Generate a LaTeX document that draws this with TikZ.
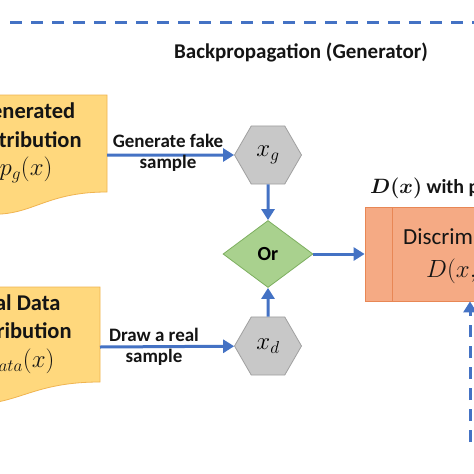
\documentclass[tikz,border=0pt]{standalone}
\usepackage{amsmath,bm}
\usepackage{fontspec}
\setmainfont{Carlito}
\usetikzlibrary{arrows.meta,shapes.geometric}
\definecolor{arrowblue}{RGB}{68,114,196}
\definecolor{docfill}{RGB}{255,216,125}
\definecolor{docline}{RGB}{240,180,80}
\definecolor{hexfill}{RGB}{200,200,200}
\definecolor{hexline}{RGB}{160,160,160}
\definecolor{orfill}{RGB}{169,209,142}
\definecolor{orline}{RGB}{125,175,95}
\definecolor{discfill}{RGB}{245,170,132}
\definecolor{discline}{RGB}{232,135,85}
\definecolor{txt}{RGB}{20,20,20}
\tikzset{
  arr/.style={draw=arrowblue, line width=3pt, -{Triangle[length=11pt,width=13pt]}},
  dashline/.style={draw=arrowblue, line width=3pt, dash pattern=on 12pt off 9pt},
  dasharr/.style={dashline, -{Triangle[length=11pt,width=13pt]}},
  docbox/.style={fill=docfill, draw=docline, line width=0.8pt},
  hexbox/.style={regular polygon, regular polygon sides=6, minimum size=67pt, inner sep=0pt,
    fill=hexfill, draw=hexline, line width=0.8pt, font=\fontsize{26}{26}\selectfont},
  orbox/.style={diamond, minimum width=90pt, minimum height=67pt, inner sep=0pt,
    fill=orfill, draw=orline, line width=0.8pt, font=\bfseries\fontsize{20}{20}\selectfont},
  discbox/.style={rectangle, minimum width=140pt, minimum height=94pt, inner sep=0pt,
    fill=discfill, draw=discline, line width=0.8pt},
  lab/.style={align=center, text=txt, font=\bfseries\fontsize{19}{21}\selectfont, inner sep=0pt},
  boxtext/.style={align=center, text=txt, font=\bfseries\fontsize{22.5}{28.5}\selectfont, inner sep=0pt},
  disctext/.style={align=center, text=txt, font=\fontsize{23}{30}\selectfont, inner sep=0pt},
  title/.style={text=txt, font=\bfseries\fontsize{21}{21}\selectfont, inner sep=0pt}
}
\newcommand{\bigmath}[1]{{\fontsize{26}{28.5}\selectfont$#1$}}
\begin{document}
\begin{tikzpicture}[x=1pt,y=-1pt]
\clip (0,0) rectangle (474,474);
\fill[white] (0,0) rectangle (474,474);
% top dashed feedback line
\coordinate (topL) at (10,22);
\coordinate (topR) at (490,22);
\draw[dashline] (topL) -- (topR);
\node[title] (bp) at (301,52) {Backpropagation (Generator)};
% generated distribution (document shape)
\path[docbox] (-47,95) -- (107,95) -- (107,192)
  .. controls (30,192) and (30,228.5) .. (-47,208) -- cycle;
\node[boxtext] (gtext) at (26,143) {Generated\\Distribution\\\bigmath{p_g(x)}};
\coordinate (genR) at (107,155);
% real data distribution
\path[docbox] (-70,287) -- (100,287) -- (100,382)
  .. controls (15,382) and (15,418) .. (-70,398) -- cycle;
\node[boxtext] (rtext) at (16,334) {Real Data\\Distribution\\\bigmath{p_{data}(x)}};
\coordinate (realR) at (100,347);
% samples
\node[hexbox] (xg) at (268,155) {$x_g$};
\node[hexbox] (xd) at (268,346) {$x_d$};
\node[orbox] (or) at (268,254) {Or};
% discriminator
\node[discbox] (disc) at (435,254) {};
\draw[discline, line width=0.8pt] (392,207) -- (392,301);
\node[disctext, anchor=north west] (dtext) at (403,228) {Discriminator};
\node[disctext, font=\fontsize{23}{30}\selectfont, anchor=west] (dtext2) at (426,271) {$D(x,\theta_d)$};
\node[title, font=\bfseries\fontsize{20}{20}\selectfont, anchor=west] (dlab) at (370,188) {{\fontsize{22}{22}\selectfont$\boldsymbol{D(x)}$} with parameters};
% connectors
\draw[arr] (genR) -- (xg);
\node[lab] (l1) at (168,153) {Generate fake\\sample};
\draw[arr] (realR) -- (xd);
\node[lab] (l2) at (154,347) {Draw a real\\sample};
\draw[arr] (xg) -- (or);
\draw[arr] (xd) -- (or);
\draw[arr] (or) -- (disc);
\coordinate (fbA) at (490,443);
\coordinate (fbB) at (470,443);
\draw[dasharr] (fbA) -- (fbB) -- (fbB |- disc.south);
\end{tikzpicture}
\end{document}
